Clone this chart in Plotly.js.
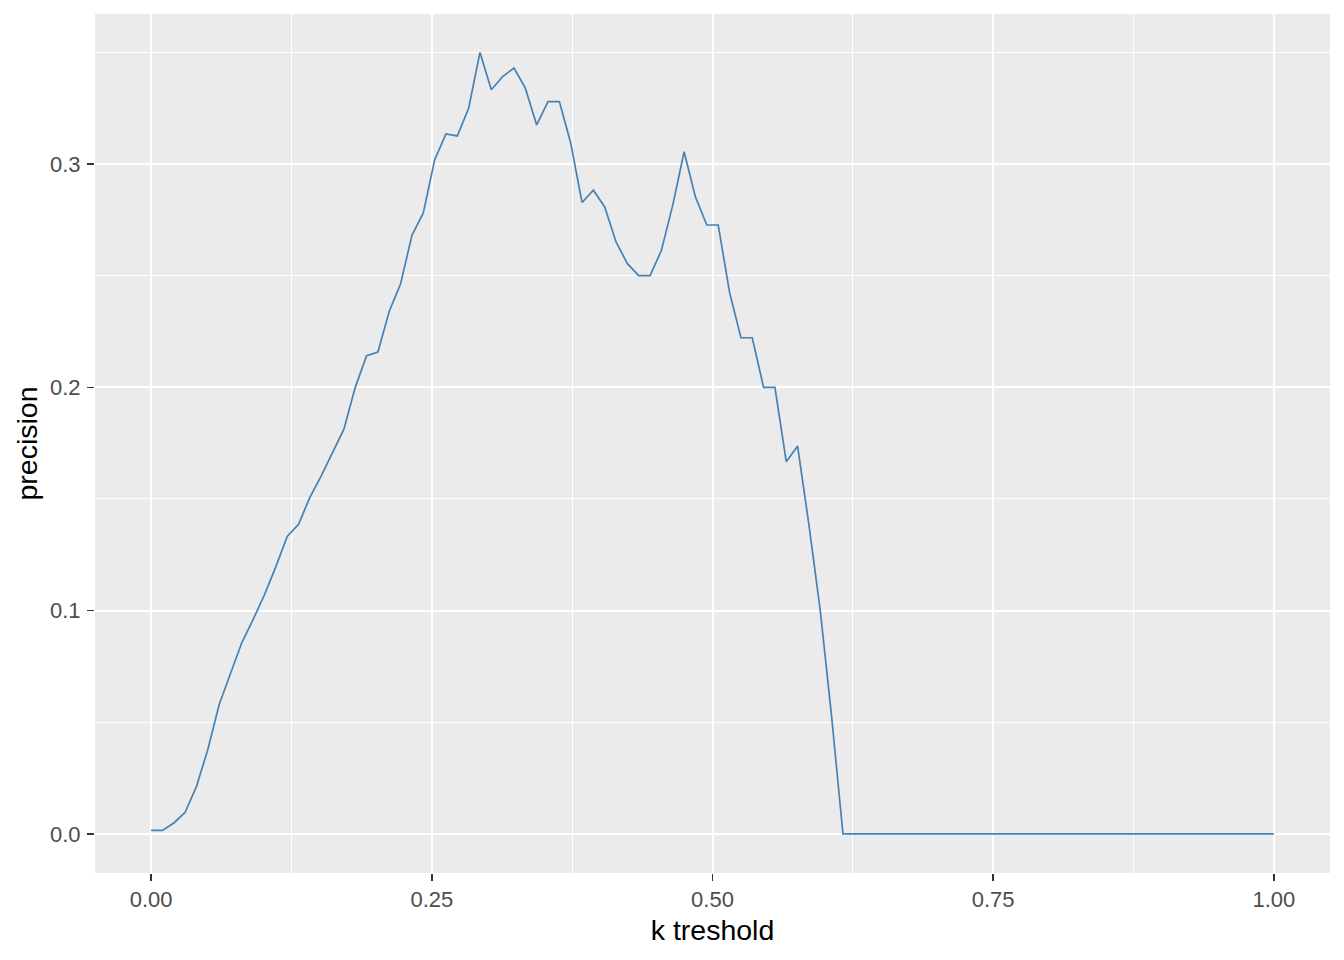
<!DOCTYPE html>
<html>
<head>
<meta charset="utf-8">
<script src="https://cdn.plot.ly/plotly-3.0.1.min.js"></script>
<style>
  html, body { margin: 0; padding: 0; background: #ffffff; }
  #chart { width: 1344px; height: 960px; }
</style>
</head>
<body>
<div id="chart"></div>
<script>
// -----------------------------
// Data
// -----------------------------
const kThreshold = [
  0.0000, 0.0101, 0.0202, 0.0303, 0.0404, 0.0505, 0.0606, 0.0707, 0.0808, 0.0909,
  0.1010, 0.1111, 0.1212, 0.1313, 0.1414, 0.1515, 0.1616, 0.1717, 0.1818, 0.1919,
  0.2020, 0.2121, 0.2222, 0.2323, 0.2424, 0.2525, 0.2626, 0.2727, 0.2828, 0.2929,
  0.3030, 0.3131, 0.3232, 0.3333, 0.3434, 0.3535, 0.3636, 0.3737, 0.3838, 0.3939,
  0.4040, 0.4141, 0.4242, 0.4343, 0.4444, 0.4545, 0.4646, 0.4747, 0.4848, 0.4949,
  0.5051, 0.5152, 0.5253, 0.5354, 0.5455, 0.5556, 0.5657, 0.5758, 0.5859, 0.5960,
  0.6061, 0.6162, 0.6263, 0.6364, 0.6465, 0.6566, 0.6667, 0.6768, 0.6869, 0.6970,
  0.7071, 0.7172, 0.7273, 0.7374, 0.7475, 0.7576, 0.7677, 0.7778, 0.7879, 0.7980,
  0.8081, 0.8182, 0.8283, 0.8384, 0.8485, 0.8586, 0.8687, 0.8788, 0.8889, 0.8990,
  0.9091, 0.9192, 0.9293, 0.9394, 0.9495, 0.9596, 0.9697, 0.9798, 0.9899, 1.0000
];

const precision = [
  0.0016, 0.0016, 0.0049, 0.0097, 0.0213, 0.0378, 0.0580, 0.0714, 0.0857, 0.0961,
  0.1072, 0.1197, 0.1332, 0.1387, 0.1507, 0.1604, 0.1709, 0.1813, 0.2000, 0.2142,
  0.2158, 0.2341, 0.2464, 0.2681, 0.2781, 0.3018, 0.3135, 0.3126, 0.3250, 0.3500,
  0.3333, 0.3392, 0.3430, 0.3340, 0.3175, 0.3280, 0.3280, 0.3094, 0.2828, 0.2883,
  0.2808, 0.2651, 0.2554, 0.2500, 0.2500, 0.2614, 0.2816, 0.3055, 0.2853, 0.2727,
  0.2727, 0.2425, 0.2222, 0.2222, 0.2000, 0.2000, 0.1667, 0.1737, 0.1384, 0.1000,
  0.0525, 0.0000, 0.0000, 0.0000, 0.0000, 0.0000, 0.0000, 0.0000, 0.0000, 0.0000,
  0.0000, 0.0000, 0.0000, 0.0000, 0.0000, 0.0000, 0.0000, 0.0000, 0.0000, 0.0000,
  0.0000, 0.0000, 0.0000, 0.0000, 0.0000, 0.0000, 0.0000, 0.0000, 0.0000, 0.0000,
  0.0000, 0.0000, 0.0000, 0.0000, 0.0000, 0.0000, 0.0000, 0.0000, 0.0000, 0.0000
];

const xTickVals = [0, 0.25, 0.5, 0.75, 1];
const xTickText = ["0.00", "0.25", "0.50", "0.75", "1.00"];
const xMinorVals = [0.125, 0.375, 0.625, 0.875];

const yTickVals = [0, 0.1, 0.2, 0.3];
const yTickText = ["0.0", "0.1", "0.2", "0.3"];
const yMinorVals = [0.05, 0.15, 0.25, 0.35];

// -----------------------------
// ggplot-ish theme helpers
// -----------------------------
const FONT = "Liberation Sans, Arial, sans-serif";

function ggAxis(tickVals, tickText, minorVals, range, titleText, standoff, labelGap) {
  return {
    range: range,
    tickmode: "array",
    tickvals: tickVals,
    ticktext: tickText,
    ticks: "outside",
    ticklen: 7,
    tickwidth: 1.5,
    tickcolor: "#333333",
    ticklabelstandoff: labelGap,
    tickfont: { family: FONT, size: 22, color: "#4d4d4d" },
    showgrid: true,
    gridcolor: "#ffffff",
    gridwidth: 2,
    minor: {
      tickmode: "array",
      tickvals: minorVals,
      ticks: "",
      showgrid: true,
      gridcolor: "#ffffff",
      gridwidth: 1
    },
    zeroline: false,
    showline: false,
    automargin: false,
    title: {
      text: titleText,
      standoff: standoff,
      font: { family: FONT, size: 28.5, color: "#000000" }
    }
  };
}

const trace = {
  type: "scatter",
  mode: "lines",
  x: kThreshold,
  y: precision,
  line: { color: "#4682b4", width: 1.7 },
  hoverinfo: "x+y",
  showlegend: false
};

const layout = {
  width: 1344,
  height: 960,
  margin: { l: 95, r: 14, t: 14, b: 87 },
  paper_bgcolor: "#ffffff",
  plot_bgcolor: "#ebebeb",
  font: { family: FONT },
  xaxis: ggAxis(xTickVals, xTickText, xMinorVals, [-0.05, 1.05], "k treshold", 8, 0),
  yaxis: ggAxis(yTickVals, yTickText, yMinorVals, [-0.0175, 0.3672], "precision", 4, 2),
  showlegend: false
};

Plotly.newPlot("chart", [trace], layout, { displayModeBar: false, staticPlot: true });
</script>
</body>
</html>
